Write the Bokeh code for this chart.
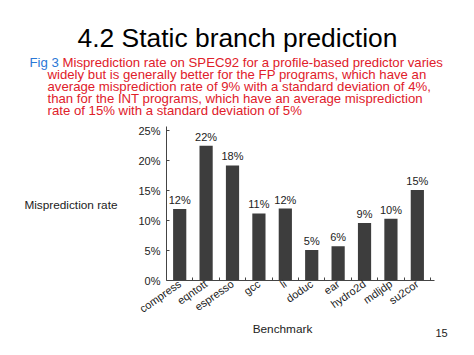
from bokeh.plotting import figure
from bokeh.models import (ColumnDataSource, Range1d, FixedTicker, PrintfTickFormatter,
                          Label, LabelSet)
from bokeh.layouts import column, row
from bokeh.core.properties import value
from bokeh.embed import file_html
from bokeh.resources import INLINE

# ---- data ----
categories = ["compress", "eqntott", "espresso", "gcc", "li",
              "doduc", "ear", "hydro2d", "mdljdp", "su2cor"]
rates = [11.95, 22.5, 19.2, 11.2, 12.0, 5.1, 5.7, 9.6, 10.3, 15.1]
rate_labels = ["12%", "22%", "18%", "11%", "12%", "5%", "6%", "9%", "10%", "15%"]
y_ticks = [0, 5, 10, 15, 20, 25]

title_text = "4.2 Static branch prediction"
fig_tag = "Fig 3"
caption_lines = [
    "Misprediction rate on SPEC92 for a profile-based predictor varies",
    "widely but is generally better for the FP programs, which have an",
    "average misprediction rate of 9% with a standard deviation of 4%,",
    "than for the INT programs, which have an average misprediction",
    "rate of 15% with a standard deviation of 5%",
]
y_label = "Misprediction rate"
x_label = "Benchmark"
page_no = "15"

FONT = "Liberation Sans"
W, H = 474, 355
HEAD_H = 122          # header strip height
LEFT_W = 130          # left strip width
FOOT_TOP = 322        # footer strip starts here
B_TOP, B_BOT = 4, 40  # chart borders inside the middle row
FRAME_TOP, FRAME_BOT = HEAD_H + B_TOP, FOOT_TOP - B_BOT
idx = list(range(len(categories)))


def strip(w, y0, y1, top=0, bottom=0):
    """A plain figure whose frame maps page pixels (y grows downward)."""
    f = figure(width=w, height=y1 - y0, output_backend="svg", toolbar_location=None,
               x_axis_type=None, y_axis_type=None,
               x_range=Range1d(0, w), y_range=Range1d(y1 - bottom, y0 + top),
               min_border=0, min_border_left=0, min_border_right=0,
               min_border_top=top, min_border_bottom=bottom)
    f.outline_line_color = None
    f.background_fill_color = "white"
    f.border_fill_color = "white"
    if f.title is not None:
        f.title.visible = False
    return f


def add_text(f, txt, x, y, size, color="#000000", align="left", baseline="alphabetic"):
    f.add_layout(Label(x=x, y=y, text=txt, text_font=FONT, text_font_size=size,
                       text_color=color, text_align=align, text_baseline=baseline))


# ---- header: title and caption ----
head = strip(W, 0, HEAD_H)
add_text(head, title_text, 237, 37, "26.4px", align="center")
add_text(head, fig_tag, 29, 62, "13.2px", color="#2a78d6")
for i, line in enumerate(caption_lines):
    add_text(head, line, 62 if i == 0 else 47, 62 + 11.95 * i, "13.2px",
             color="#e0202a")

# ---- left strip: y axis title (same borders as the chart) ----
left = strip(LEFT_W, HEAD_H, FOOT_TOP, top=B_TOP, bottom=B_BOT)
add_text(left, y_label, 117, 206, "11.8px", color="#222222", align="right",
         baseline="middle")

# ---- chart ----
src = ColumnDataSource(dict(x=idx, rate=rates, lab=rate_labels))

p = figure(width=W - LEFT_W, height=FOOT_TOP - HEAD_H, output_backend="svg",
           toolbar_location=None,
           x_range=Range1d(-0.5, 9.65), y_range=Range1d(0, 25.7),
           min_border_left=36, min_border_right=40, min_border_top=B_TOP,
           min_border_bottom=B_BOT)
p.outline_line_color = None
p.xgrid.visible = False
p.ygrid.visible = False
p.background_fill_color = "white"
p.border_fill_color = "white"
if p.title is not None:
    p.title.visible = False

p.vbar(x="x", top="rate", width=0.5, source=src, fill_color="#3d3d3d",
       line_color=None)

p.add_layout(LabelSet(x="x", y="rate", text="lab", source=src, y_offset=5,
                      text_align="center", text_baseline="alphabetic",
                      text_font=value(FONT), text_font_size="11px",
                      text_color="#222222"))

xa = p.xaxis[0]
xa.ticker = FixedTicker(ticks=idx, minor_ticks=[i + 0.5 for i in idx])
xa.major_label_overrides = {i: c for i, c in enumerate(categories)}
xa.major_label_orientation = 0.61
xa.major_tick_line_color = None
xa.major_tick_in = 0
xa.major_tick_out = 0
xa.minor_tick_in = 3
xa.minor_tick_out = 0
xa.minor_tick_line_color = "#444444"
xa.axis_line_color = "#444444"
xa.major_label_text_font = FONT
xa.major_label_text_font_size = "11px"
xa.major_label_text_color = "#222222"
xa.major_label_standoff = 2

ya = p.yaxis[0]
ya.ticker = FixedTicker(ticks=y_ticks)
ya.formatter = PrintfTickFormatter(format="%d%%")
ya.major_tick_in = 3
ya.major_tick_out = 0
ya.minor_tick_line_color = None
ya.major_tick_line_color = "#444444"
ya.axis_line_color = "#444444"
ya.major_label_text_font = FONT
ya.major_label_text_font_size = "11px"
ya.major_label_text_color = "#222222"
ya.major_label_standoff = 6

# ---- footer: x axis title and page number ----
foot = strip(W, FOOT_TOP, H)
add_text(foot, x_label, 282, 328, "11.8px", color="#222222", align="center",
         baseline="middle")
add_text(foot, page_no, 441, 332, "11px", color="#222222", align="center",
         baseline="middle")

layout = column(head, row(left, p), foot)
open("out.html", "w").write(file_html(layout, INLINE))
